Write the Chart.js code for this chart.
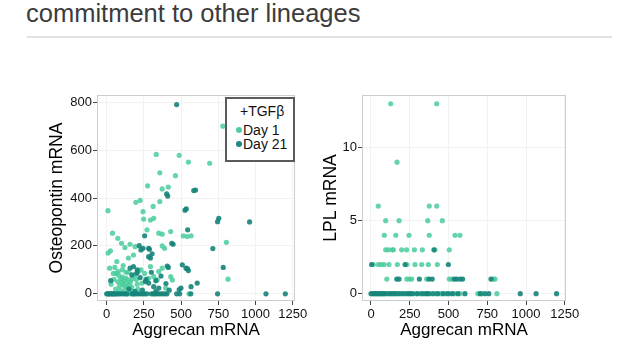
<!DOCTYPE html>
<html>
<head>
<meta charset="utf-8">
<script src="https://cdn.jsdelivr.net/npm/chart.js@4.4.1/dist/chart.umd.min.js"></script>
<style>
  body { margin: 0; width: 640px; height: 360px; background: #fff; position: relative; overflow: hidden; font-family: "Liberation Sans", Arial, sans-serif; }
  .slide-title { position: absolute; left: 26px; top: 1px; font-size: 25.5px; line-height: 25px; color: #3c3c3c; white-space: nowrap; }
  .rule { position: absolute; left: 27px; top: 36px; width: 585px; height: 2px; background: #e2e2e2; }
  canvas { position: absolute; top: 80px; }
  #osteoChart { left: 0; }
  #lplChart { left: 320px; }
  .legend { position: absolute; left: 225px; top: 97px; width: 66px; height: 61px; border: 2px solid #5a5a5a; background: #fff; font-size: 14px; line-height: 14px; color: #111; }
  .legend div { position: absolute; white-space: nowrap; }
  .legend .dot { display: inline-block; width: 6px; height: 6px; border-radius: 50%; margin-right: 1px; vertical-align: 2px; }
</style>
</head>
<body>
<div class="slide-title">commitment to other lineages</div>
<div class="rule"></div>
<canvas id="osteoChart" width="320" height="280"></canvas>
<canvas id="lplChart" width="320" height="280"></canvas>
<div class="legend">
  <div style="left:13px;top:5px">+TGFβ</div>
  <div style="left:9px;top:24px"><span class="dot" style="background:#52cc9f"></span>Day 1</div>
  <div style="left:9px;top:38px"><span class="dot" style="background:#1d8a80"></span>Day 21</div>
</div>
<script>
// Osteopontin vs Aggrecan, Day 1
const osteoDay1Aggrecan = [780, 333, 487, 549, 692, 357, 462, 275, 373, 414, 196, 225, 312, 357, 9, 244, 248, 294, 316, 39,
  75, 350, 373, 430, 271, 514, 540, 567, 804, 100, 157, 191, 373, 389, 123, 9, 25, 180, 146, 68,
  111, 20, 55, 77, 294, 373, 350, 815, 282, 316, 339, 430, 441, 396, 237, 94, 100, 105, 110, 118,
  122, 128, 134, 140, 146, 152, 160, 168, 175, 86, 80, 190, 205, 215, 255, 60, 30, 130, 140, 155,
  185, 553, 320, 50, 65, 90, 115, 165, 200, 210, 230, 145, 105, 75, 45];
const osteoDay1Values = [700, 582, 578, 550, 545, 505, 493, 451, 438, 446, 382, 390, 365, 385, 347, 343, 312, 308, 315, 253,
  232, 253, 249, 260, 267, 242, 239, 242, 215, 211, 207, 197, 200, 190, 193, 170, 179, 162, 149, 135,
  118, 107, 110, 93, 114, 107, 93, 61, 65, 72, 58, 72, 58, 24, 45, 62, 48, 70, 38, 55,
  30, 66, 44, 24, 58, 36, 50, 28, 64, 34, 78, 80, 40, 95, 85, 20, 40, 90, 0, 0,
  0, 0, 0, 60, 85, 15, 10, 12, 60, 20, 100, 90, 100, 50, 85];

// Osteopontin vs Aggrecan, Day 21
const osteoDay21Aggrecan = [470, 403, 410, 585, 597, 526, 535, 745, 753, 960, 544, 255, 437, 446, 219, 230, 244, 282, 287, 305,
  713, 294, 282, 783, 508, 533, 542, 549, 414, 407, 157, 180, 169, 203, 225, 260, 282, 316, 350, 499,
  567, 608, 27, 487, 398, 365, 150, 190, 240, 265, 300, 330, 420, 205, 330,
  0, 8, 15, 22, 30, 38, 45, 52, 60, 70, 80, 95, 110, 125, 135, 170, 180, 195, 210, 225,
  240, 255, 270, 300, 315, 330, 345, 360, 375, 390, 405, 470, 490, 565, 745, 1070, 1200];
const osteoDay21Values = [790, 417, 408, 431, 433, 349, 355, 301, 315, 300, 267, 242, 211, 207, 201, 183, 190, 190, 186, 167,
  189, 149, 155, 110, 121, 107, 105, 97, 110, 116, 107, 114, 79, 86, 68, 51, 45, 30, 24, 24,
  30, 45, 55, 18, 43, 74, 20, 10, 15, 60, 90, 10, 15, 100, 55,
  0, 0, 0, 0, 0, 0, 0, 0, 0, 0, 0, 0, 0, 0, 0, 0, 0, 0, 0, 0,
  0, 0, 0, 0, 0, 0, 0, 0, 0, 0, 0, 0, 0, 0, 0, 0, 0];

// LPL vs Aggrecan, Day 1
const lplDay1Aggrecan = [127, 424, 168, 47, 376, 424, 95, 181, 366, 460, 86, 160, 245, 376, 542, 574,
  95, 112, 138, 144, 198, 230, 280, 331, 413, 505,
  15, 47, 65, 84, 116, 170, 231, 284, 327, 370, 428,
  102, 231, 248, 263, 359, 505, 520, 789, 800,
  10, 25, 40, 55, 70, 85, 110, 130, 150, 175, 200, 225, 260, 290, 320, 345, 380, 420, 450, 480,
  510, 540, 575, 690, 715, 812];
const lplDay1Values = [13, 13, 9, 6, 6, 6, 5, 5, 5, 5, 4, 4, 4, 4, 4, 4,
  3, 3, 3, 3, 3, 3, 3, 3, 3, 3,
  2, 2, 2, 2, 2, 2, 2, 2, 2, 2, 2,
  1, 1, 1, 1, 1, 1, 1, 1, 1,
  0, 0, 0, 0, 0, 0, 0, 0, 0, 0, 0, 0, 0, 0, 0, 0, 0, 0, 0, 0,
  0, 0, 0, 0, 0, 0];

// LPL vs Aggrecan, Day 21
const lplDay21Aggrecan = [406, 4, 220, 499,
  166, 181, 312, 374, 395, 537, 552, 574, 591, 774,
  0, 18, 33, 48, 62, 78, 95, 120, 140, 160, 185, 210, 235, 250, 270, 300, 330, 355, 370, 400,
  430, 465, 495, 525, 560, 606, 705, 735, 760, 963, 1065, 1197];
const lplDay21Values = [3, 2, 2, 2,
  1, 1, 1, 1, 1, 1, 1, 1, 1, 1,
  0, 0, 0, 0, 0, 0, 0, 0, 0, 0, 0, 0, 0, 0, 0, 0, 0, 0, 0, 0,
  0, 0, 0, 0, 0, 0, 0, 0, 0, 0, 0, 0];

const aggrecanTicks = [0, 250, 500, 750, 1000, 1250];
const osteoTicks = [0, 200, 400, 600, 800];
const lplTicks = [0, 5, 10];

const day1Color = "rgba(74, 204, 156, 0.85)";
const day21Color = "rgba(22, 132, 122, 0.9)";
const fontFamily = "'Liberation Sans', Arial, sans-serif";

const panelFrame = {
  id: "panelFrame",
  beforeDatasetsDraw(chart) {
    const { ctx, chartArea: a } = chart;
    ctx.save();
    ctx.strokeStyle = "#cdcdcd";
    ctx.lineWidth = 1;
    ctx.strokeRect(a.left + 0.5, a.top + 0.5, a.width - 1, a.height - 1);
    ctx.restore();
  }
};

function toPoints(xs, ys) {
  return xs.map((x, i) => ({ x: x, y: ys[i] }));
}

function makeChart(id, cfg) {
  const ctx = document.getElementById(id).getContext("2d");
  return new Chart(ctx, {
    type: "scatter",
    data: {
      datasets: [
        { label: "Day 21", data: toPoints(cfg.day21x, cfg.day21y), backgroundColor: day21Color, borderWidth: 0, pointRadius: 2.6 },
        { label: "Day 1", data: toPoints(cfg.day1x, cfg.day1y), backgroundColor: day1Color, borderWidth: 0, pointRadius: 2.6 }
      ]
    },
    options: {
      responsive: false,
      animation: false,
      devicePixelRatio: 1,
      layout: { padding: { top: 15, right: cfg.padRight, bottom: 19, left: 0 } },
      plugins: { legend: { display: false }, tooltip: { enabled: false } },
      scales: {
        x: {
          type: "linear",
          min: cfg.xRange[0],
          max: cfg.xRange[1],
          afterBuildTicks: (s) => { s.ticks = aggrecanTicks.map((v) => ({ value: v })); },
          afterFit: (s) => { s.height = 40; },
          grid: { color: "#f2f2f2", tickColor: "#444", tickLength: 4 },
          border: { display: false },
          ticks: { font: { size: 13, family: fontFamily }, color: "#111", padding: 2, autoSkip: false, maxRotation: 0, callback: (v) => String(v) },
          title: { display: true, text: "Aggrecan mRNA", font: { size: 17, family: fontFamily }, color: "#000", padding: 0 }
        },
        y: {
          type: "linear",
          min: cfg.yRange[0],
          max: cfg.yRange[1],
          afterBuildTicks: (s) => { s.ticks = cfg.yTicks.map((v) => ({ value: v })); },
          afterFit: (s) => { s.width = cfg.yWidth; },
          grid: { color: "#f2f2f2", tickColor: "#444", tickLength: 4 },
          border: { display: false },
          ticks: { font: { size: 13, family: fontFamily }, color: "#111", padding: 1, callback: (v) => String(v) },
          title: { display: true, text: cfg.yTitle, font: { size: 17.5, family: fontFamily }, color: "#000", padding: { top: cfg.yTitlePad, bottom: 0 } }
        }
      }
    },
    plugins: [panelFrame]
  });
}

makeChart("osteoChart", {
  day1x: osteoDay1Aggrecan, day1y: osteoDay1Values,
  day21x: osteoDay21Aggrecan, day21y: osteoDay21Values,
  xRange: [-65, 1265], yRange: [-30, 830], yTicks: osteoTicks,
  yTitle: "Osteopontin mRNA", yWidth: 97, yTitlePad: 47, padRight: 25
});

makeChart("lplChart", {
  day1x: lplDay1Aggrecan, day1y: lplDay1Values,
  day21x: lplDay21Aggrecan, day21y: lplDay21Values,
  xRange: [-58, 1258], yRange: [-0.5, 13.6], yTicks: lplTicks,
  yTitle: "LPL mRNA", yWidth: 42, yTitlePad: 1, padRight: 74
});
</script>
</body>
</html>
